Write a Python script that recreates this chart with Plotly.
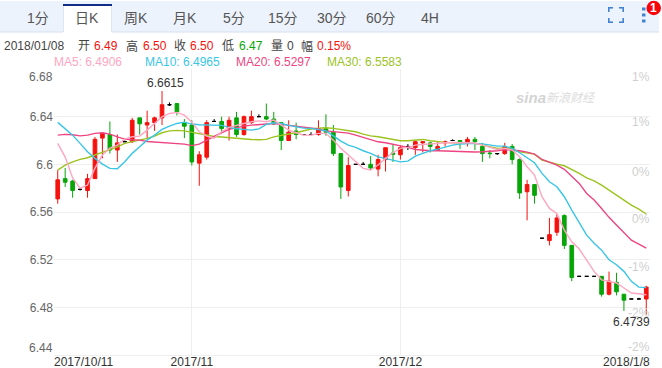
import plotly.graph_objects as go

W, H = 662, 368

# day index of each candle (80 trading sessions)
days = list(range(80))
opens = [6.571,6.588,6.586,6.579,6.578,6.588,6.622,6.625,6.612,6.619,
         6.619,6.639,6.633,6.635,6.639,6.650,6.651,6.635,6.633,6.601,
         6.606,6.636,6.636,6.630,6.639,6.625,6.635,6.640,6.640,6.638,
         6.635,6.620,6.628,6.625,6.625,6.625,6.630,6.627,6.609,6.578,
         6.600,6.600,6.600,6.596,6.604,6.6095,6.608,6.615,6.614,6.618,
         6.618,6.612,6.618,6.620,6.620,6.618,6.621,6.615,6.6095,6.609,
         6.609,6.615,6.604,6.577,6.583,6.538,6.536,6.543,6.557,6.532,
         6.506,6.506,6.506,6.506,6.491,6.501,6.491,6.487,6.487,6.487]
closes = [6.587,6.585,6.578,6.579,6.588,6.621,6.626,6.612,6.618,6.619,
          6.637,6.634,6.635,6.639,6.650,6.650,6.644,6.632,6.602,6.608,
          6.635,6.636,6.630,6.637,6.625,6.640,6.640,6.640,6.638,6.634,
          6.620,6.627,6.625,6.625,6.625,6.630,6.627,6.609,6.581,6.599,
          6.600,6.600,6.597,6.604,6.614,6.6085,6.614,6.615,6.619,6.619,
          6.615,6.615,6.619,6.620,6.619,6.621,6.619,6.609,6.609,6.609,
          6.615,6.604,6.576,6.583,6.574,6.538,6.541,6.555,6.532,6.505,
          6.506,6.506,6.506,6.491,6.502,6.493,6.486,6.487,6.487,6.497]
highs = [6.595,6.597,6.587,6.5795,6.592,6.623,6.627,6.636,6.625,6.620,
         6.639,6.639,6.645,6.640,6.6615,6.652,6.651,6.638,6.637,6.611,
         6.637,6.638,6.640,6.640,6.644,6.641,6.645,6.642,6.651,6.644,
         6.635,6.637,6.635,6.625,6.627,6.637,6.642,6.633,6.609,6.606,
         6.600,6.602,6.607,6.608,6.614,6.617,6.616,6.617,6.620,6.619,
         6.619,6.619,6.620,6.621,6.620,6.623,6.623,6.618,6.612,6.609,
         6.618,6.617,6.605,6.587,6.583,6.538,6.555,6.558,6.558,6.532,
         6.506,6.506,6.506,6.506,6.510,6.509,6.491,6.487,6.488,6.498]
lows = [6.567,6.581,6.572,6.578,6.572,6.588,6.605,6.609,6.602,6.619,
        6.618,6.625,6.622,6.628,6.633,6.649,6.641,6.622,6.599,6.582,
        6.604,6.636,6.627,6.620,6.623,6.624,6.634,6.640,6.637,6.633,
        6.612,6.620,6.621,6.625,6.625,6.624,6.624,6.607,6.571,6.573,
        6.600,6.600,6.595,6.590,6.594,6.602,6.604,6.612,6.608,6.610,
        6.610,6.612,6.615,6.620,6.613,6.615,6.612,6.602,6.605,6.608,
        6.608,6.600,6.571,6.553,6.567,6.538,6.532,6.540,6.529,6.502,
        6.506,6.506,6.506,6.489,6.490,6.490,6.477,6.487,6.487,6.4739]

ma5 = [6.6176,6.6061,6.5885,6.5801,6.5826,6.5968,6.6078,6.6136,6.6161,6.6212,
       6.6231,6.6237,6.6287,6.6343,6.6399,6.6427,6.6436,6.6413,6.6354,6.6273,
       6.6237,6.622,6.6273,6.631,6.6329,6.6343,6.6357,6.6365,6.6357,6.6371,
       6.6329,6.6287,6.6265,6.6245,6.6245,6.626,6.626,6.6203,6.6134,6.6078,
       6.6021,6.5966,6.5952,6.5994,6.605,6.6097,6.6134,6.6142,6.6161,6.6167,
       6.617,6.6176,6.6181,6.6183,6.618,6.6182,6.6179,6.6161,6.6142,6.6125,
       6.6134,6.612,6.6063,6.5979,6.591,6.5728,6.563,6.5588,6.5448,6.535,
       6.5289,6.5199,6.5102,6.5031,6.5018,6.5004,6.4962,6.492,6.4914,6.4906]
ma10 = [6.6352,6.6302,6.6245,6.6176,6.6105,6.605,6.6002,6.5966,6.5963,6.6021,
        6.6092,6.6147,6.6203,6.6245,6.6293,6.6321,6.6343,6.6354,6.6338,6.6332,
        6.6332,6.6332,6.6327,6.631,6.6298,6.6293,6.6287,6.6298,6.6335,6.6349,
        6.6343,6.6327,6.6315,6.6304,6.6302,6.6293,6.6281,6.6239,6.6195,6.6161,
        6.6142,6.6114,6.6092,6.6063,6.6047,6.6033,6.6021,6.6027,6.6069,6.6092,
        6.6114,6.6128,6.6147,6.6161,6.617,6.6176,6.6176,6.6172,6.6164,6.6153,
        6.6153,6.6134,6.6097,6.6058,6.6013,6.5924,6.5854,6.5812,6.5728,6.5616,
        6.5505,6.5406,6.5337,6.528,6.5199,6.5157,6.5102,6.5018,6.497,6.4965]
ma20 = [6.6245,6.6251,6.6248,6.6239,6.6245,6.626,6.6265,6.6254,6.6231,6.6212,
        6.6206,6.6203,6.6192,6.6187,6.6184,6.6181,6.6176,6.617,6.6157,6.617,
        6.6203,6.6237,6.6265,6.6293,6.631,6.6321,6.6329,6.6335,6.6343,6.6343,
        6.6335,6.6327,6.6321,6.6315,6.6307,6.6296,6.6281,6.6273,6.627,6.6262,
        6.6245,6.6226,6.6209,6.6189,6.6181,6.617,6.6153,6.6142,6.6125,6.6117,
        6.6114,6.6114,6.6111,6.6109,6.6105,6.6103,6.6103,6.6105,6.6109,6.6114,
        6.6124,6.6121,6.6114,6.6103,6.6086,6.6041,6.6019,6.5994,6.5958,6.5895,
        6.584,6.5756,6.57,6.563,6.5555,6.549,6.5429,6.5364,6.5331,6.5297]
ma30 = [6.5952,6.5994,6.6021,6.6042,6.6055,6.6078,6.61,6.612,6.6147,6.6176,
        6.6189,6.6203,6.6218,6.6237,6.6265,6.6281,6.6285,6.6281,6.627,6.6254,
        6.6243,6.6234,6.6229,6.6223,6.6218,6.6212,6.6209,6.6206,6.6209,6.6231,
        6.6245,6.6254,6.6265,6.6281,6.6296,6.6304,6.6307,6.6302,6.6293,6.6287,
        6.6273,6.6254,6.6239,6.6231,6.622,6.6206,6.6198,6.6198,6.6203,6.6209,
        6.6198,6.6189,6.6184,6.6181,6.6178,6.6178,6.6176,6.6161,6.6147,6.6134,
        6.6136,6.6125,6.6105,6.6097,6.6086,6.6036,6.6016,6.6002,6.5988,6.5958,
        6.5924,6.5887,6.5862,6.5826,6.5784,6.5742,6.57,6.5658,6.5624,6.5583]

tabs = ["1分", "日K", "周K", "月K", "5分", "15分", "30分", "60分", "4H"]
y_ticks = [6.44, 6.48, 6.52, 6.56, 6.60, 6.64, 6.68]
y_labels = ["", "6.48", "6.52", "6.56", "6.6", "6.64", ""]
x_ticks = [18, 46]
x_labels = ["2017/11", "2017/12"]

RED, GREEN, BLACK = "#f5120c", "#08a508", "#000000"
MA_COL = {"MA5": "#ffa6c2", "MA10": "#38c6e4", "MA20": "#ee4582", "MA30": "#9cc31f"}
FONT = "Liberation Sans, Noto Sans CJK SC, sans-serif"


def px(x):
    return x / W


def py(y):
    return 1 - y / H


fig = go.Figure()
is_doji = [o == c for o, c in zip(opens, closes)]
for doji in (False, True):
    idx = [i for i in days if is_doji[i] == doji]
    up = BLACK if doji else RED
    dn = BLACK if doji else GREEN
    fig.add_trace(go.Candlestick(
        x=idx,
        open=[opens[i] for i in idx], high=[highs[i] for i in idx],
        low=[lows[i] for i in idx], close=[closes[i] for i in idx],
        increasing=dict(line=dict(color=up, width=1), fillcolor=up),
        decreasing=dict(line=dict(color=dn, width=1), fillcolor=dn),
        hoverinfo="skip", showlegend=False))

for name, vals in (("MA30", ma30), ("MA20", ma20), ("MA10", ma10), ("MA5", ma5)):
    fig.add_trace(go.Scatter(x=days, y=vals, mode="lines", showlegend=False,
                             hoverinfo="skip", line=dict(color=MA_COL[name], width=1.4)))

shapes = []


def rect(x0, y0, x1, y1, fill, line=None):
    shapes.append(dict(type="rect", xref="paper", yref="paper",
                       x0=px(x0), x1=px(x1), y0=py(y0), y1=py(y1),
                       fillcolor=fill, line=dict(width=1 if line else 0, color=line or fill)))


rect(0, 1, 659, 32, "#edf3fc")
rect(0, 31.5, 659, 32.5, "#d6e0f0")
rect(63, 4, 112, 33, "#ffffff")
rect(63, 5, 63.8, 32, "#d6e0f0")
rect(111.2, 5, 112, 32, "#d6e0f0")
rect(63, 4, 112, 6, "#0f2f86")

ICON = "#4382d2"
for cx, cy, sx, sy in ((608, 7, 1, 1), (624, 7, -1, 1), (608, 23, 1, -1), (624, 23, -1, -1)):
    rect(min(cx, cx + sx * 5), min(cy, cy + sy * 1.6), max(cx, cx + sx * 5), max(cy, cy + sy * 1.6), ICON)
    rect(min(cx, cx + sx * 1.6), min(cy, cy + sy * 5), max(cx, cx + sx * 1.6), max(cy, cy + sy * 5), ICON)
for cy in (9, 15, 21):
    rect(642, cy - 1.5, 645.5, cy + 1.5, ICON)
shapes.append(dict(type="circle", xref="paper", yref="paper",
                   x0=px(646.5), x1=px(661), y0=py(15.2), y1=py(0.8),
                   fillcolor="#f5050a", line=dict(width=0)))

ann = []


def text(x, y, s, color, size=12, anchor="left", **kw):
    ann.append(dict(x=px(x), y=py(y), xref="paper", yref="paper", text=s, showarrow=False,
                    xanchor=anchor, yanchor="middle", borderpad=0, borderwidth=0,
                    font=dict(family=kw.pop("family", FONT), size=size, color=color), **kw))


for i, t in enumerate(tabs):
    text(38 + 49 * i, 18, t, "#555555", 14, "center")
text(653.7, 8, "<b>1</b>", "#ffffff", 12, "center")

G = "#444444"
text(4, 46, "2018/01/08", G)
for x, s in ((84, "开"), (132, "高"), (180, "收"), (228, "低"), (276.7, "量"), (306.7, "幅")):
    text(x, 46, s, G, 12, "center")
for x, s, c in ((94.3, "6.49", RED), (142.7, "6.50", RED), (190.3, "6.50", RED),
                (238.7, "6.47", GREEN), (286.7, "0", G), (317.3, "0.15%", RED)):
    text(x, 46, s, c)
for x, name, v in ((53.7, "MA5", ma5), (145, "MA10", ma10), (236, "MA20", ma20), (326.7, "MA30", ma30)):
    text(x, 62, f"{name}: {v[-1]:.4f}", MA_COL[name])

text(53, 77, "6.68", "#666666", 12, "right")
text(53, 348, "6.44", "#666666", 12, "right")
for y, s in ((77, "1%"), (122, "1%"), (172, "0%"), (219, "0%"), (267, "-1%"), (313, "-2%"), (347, "-2%")):
    text(650, y, s, "#cfcfcf", 12, "right")
text(54, 362, "2017/10/11", "#333333")
text(650, 362, "2018/1/8", "#333333", 12, "right")
text(165, 83, "6.6615", "#333333", 12, "center")
text(650, 322, "6.4739", "#333333", 12, "right")
text(516, 98, "<b><i>sina</i></b>", "#d4d4d4", 15)
text(546, 98, "<i>新浪财经</i>", "#dcdcdc", 12)

fig.update_layout(
    width=W, height=H, margin=dict(l=0, r=0, t=0, b=0, pad=0), autosize=False,
    paper_bgcolor="#ffffff", plot_bgcolor="#ffffff", showlegend=False,
    boxmode="overlay", shapes=shapes, annotations=ann,
    font=dict(family=FONT),
    xaxis=dict(domain=[54 / W, 650 / W], range=[-0.5, 79.5], rangeslider=dict(visible=False),
               automargin=False, ticklabelstandoff=-4,
               tickmode="array", tickvals=x_ticks, ticktext=x_labels, ticks="",
               showgrid=True, gridcolor="#eeeeee", gridwidth=1, zeroline=False,
               showline=True, linecolor="#eeeeee", linewidth=1,
               tickfont=dict(size=12, color="#333333")),
    yaxis=dict(domain=[13 / H, 299 / H], range=[6.44, 6.68], automargin=False,
               tickmode="array", tickvals=y_ticks, ticktext=y_labels, ticks="",
               showgrid=True, gridcolor="#eeeeee", gridwidth=1, zeroline=False,
               showline=False, tickfont=dict(size=12, color="#666666")),
)

fig.write_html("out.html", config={"displayModeBar": False},
               default_width=f"{W}px", default_height=f"{H}px",
               post_script="document.body.style.margin='0';document.body.style.overflow='hidden';document.documentElement.style.overflow='hidden';")
